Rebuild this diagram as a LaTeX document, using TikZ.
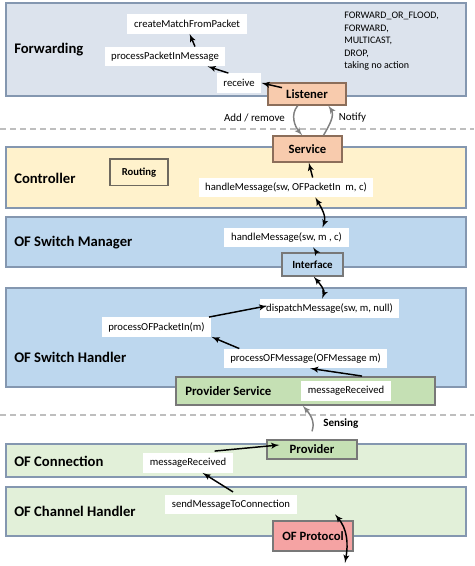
\documentclass[tikz,border=0pt]{standalone}
\usepackage{fontspec}
\setmainfont{Carlito}
\usetikzlibrary{positioning, arrows}

\definecolor{fwdfill}{RGB}{220,227,237}
\definecolor{ctrlfill}{RGB}{255,242,204}
\definecolor{swfill}{RGB}{189,215,238}
\definecolor{connfill}{RGB}{226,240,217}
\definecolor{provfill}{RGB}{197,224,180}
\definecolor{orangefill}{RGB}{248,203,173}
\definecolor{protofill}{RGB}{245,163,163}
\definecolor{layerline}{RGB}{132,151,176}
\definecolor{compline}{RGB}{120,120,120}
\definecolor{orangeline}{RGB}{140,110,90}
\definecolor{routeline}{RGB}{110,105,95}
\definecolor{sepgray}{RGB}{190,190,190}
\definecolor{loopgray}{RGB}{128,128,128}

\begin{document}
\begin{tikzpicture}[>=latex', x=0.75pt, y=-0.75pt]
    \tikzset{layer/.style = {draw=layerline, line width=1pt, minimum width=345pt},
             title/.style = {anchor=west, inner sep=0, font=\fontsize{11}{13}\selectfont\bfseries},
             call/.style = {fill=white, inner xsep=5pt, minimum height=14.5pt, font=\fontsize{8}{9.6}\selectfont},
             comp/.style = {draw=compline, line width=1pt, font=\fontsize{9.5}{11}\selectfont\bfseries},
             flow/.style = {->, line width=1.1pt},
             twoway/.style = {<->, line width=1.1pt},
             loop/.style = {->, line width=1.1pt, draw=loopgray},
             sep/.style = {draw=sepgray, line width=1pt, dash pattern=on 4.5pt off 3pt}
            }
    \useasboundingbox (0,0) rectangle (474,566);

    % layers
    \node (fwd) [layer, fill=fwdfill, minimum height=69.75pt] at (236,49.5) {};
    \node (ctrl) [layer, fill=ctrlfill, minimum height=45.75pt] at (236,177.5) {};
    \node (swmgr) [layer, fill=swfill, minimum height=37.5pt] at (236,242) {};
    \node (swhdl) [layer, fill=swfill, minimum height=74.25pt] at (236,337.5) {};
    \node (ofconn) [layer, fill=connfill, minimum height=24.75pt] at (236,460.5) {};
    \node (ofchan) [layer, fill=connfill, minimum height=36.75pt] at (236,511.5) {};

    \node (fwdtitle) [title] at (14,50) {Forwarding};
    \node (ctrltitle) [title] at (14,178) {Controller};
    \node (swmgrtitle) [title] at (14,243) {OF Switch Manager};
    \node (swhdltitle) [title] at (14,357) {OF Switch Handler};
    \node (ofconntitle) [title] at (14,461) {OF Connection};
    \node (ofchantitle) [title] at (14,511) {OF Channel Handler};

    % separators
    \coordinate (sepAw) at (0,129);
    \coordinate (sepAe) at (474,129);
    \coordinate (sepBw) at (0,415);
    \coordinate (sepBe) at (474,415);
    \draw[sep] (sepAw) -- (sepAe);
    \draw[sep] (sepBw) -- (sepBe);

    % forwarding
    \node (cmfp) [call] at (187,24) {createMatchFromPacket};
    \node (ppim) [call] at (165,56.5) {processPacketInMessage};
    \node (recv) [call] at (239,83) {receive};
    \node (actions) [anchor=north west, align=left, inner sep=0, font=\fontsize{7.5}{9.4}\selectfont] at (344,12)
        {FORWARD\_OR\_FLOOD,\\FORWARD,\\MULTICAST,\\DROP,\\taking no action};
    \node (listener) [comp, fill=orangefill, draw=orangeline, minimum width=58.5pt, minimum height=16.5pt] at (307,94) {Listener};

    % controller
    \node (service) [comp, fill=orangefill, draw=orangeline, minimum width=51.75pt, minimum height=19.5pt] at (307.5,149) {Service};
    \node (routing) [comp, fill=ctrlfill, draw=routeline, font=\fontsize{8}{10}\selectfont\bfseries,
                     minimum width=43.5pt, minimum height=20pt] at (139,172.5) {Routing};
    \node (hmc) [call] at (286,187.5) {handleMessage(sw, OFPacketIn~ m, c)};
    \node (addrm) [font=\fontsize{8.2}{10}\selectfont] at (254.5,118) {Add / remove};
    \node (notify) [font=\fontsize{8.2}{10}\selectfont] at (352.5,118) {Notify};

    % switch manager
    \node (hms) [call] at (286.5,237.5) {handleMessage(sw, m , c)};
    \node (iface) [comp, fill=swfill, font=\fontsize{8.2}{10}\selectfont\bfseries,
                   minimum width=45.75pt, minimum height=17.25pt] at (312.5,264.5) {Interface};

    % switch handler
    \node (dispatch) [call] at (329.5,308.5) {dispatchMessage(sw, m, null)};
    \node (pofpi) [call] at (156.5,327) {processOFPacketIn(m)};
    \node (pofm) [call] at (305.5,358.5) {processOFMessage(OFMessage m)};
    \node (provsvc) [comp, fill=provfill, minimum width=194.25pt, minimum height=21pt] at (305.5,391) {};
    \node (provsvctitle) [anchor=west, inner sep=0, font=\fontsize{9.6}{11}\selectfont\bfseries] at (185,391) {Provider Service};
    \node (svcmsgrcv) [call] at (346,391) {messageReceived};

    % connection and channel
    \node (provider) [comp, fill=provfill, minimum width=67.5pt, minimum height=14.25pt] at (312,449.5) {Provider};
    \node (sensing) [anchor=west, inner sep=0, font=\fontsize{8.3}{10}\selectfont\bfseries] at (323,424) {Sensing};
    \node (connmsgrcv) [call] at (188,463) {messageReceived};
    \node (smtc) [call] at (231,504.5) {sendMessageToConnection};
    \node (ofproto) [comp, fill=protofill, minimum width=60pt, minimum height=22.5pt] at (313,536) {OF Protocol};
    \coordinate (wire) at (345,563);

    % connectors
    \draw[flow] ([xshift=22.5pt]ppim.north) -- ([xshift=2pt]cmfp.south);
    \draw[flow] ([xshift=-8pt]recv.north) -- ([xshift=32pt]ppim.south);
    \draw[flow] ([xshift=11pt,yshift=-4pt]listener.north west) -- (recv.east);
    \draw[loop] ([xshift=-7pt]listener.south) to[out=-130,in=130] ([xshift=-4pt]service.north);
    \draw[loop] ([xshift=12pt]service.north) to[out=60,in=-55] ([xshift=16pt]listener.south);
    \draw[flow] ([xshift=20pt]hmc.north) -- ([xshift=1pt]service.south);
    \draw[twoway] ([xshift=22pt]hmc.south) to[out=-60,in=70] ([xshift=27pt]hms.north);
    \draw[flow] ([xshift=3pt]iface.north) -- ([xshift=20pt]hms.south);
    \draw[twoway] ([xshift=1pt]iface.south) to[out=-50,in=70] ([xshift=-5.5pt]dispatch.north);
    \draw[flow] ([xshift=-2pt]pofpi.north east) -- ([xshift=6pt,yshift=2pt]dispatch.west);
    \draw[flow] ([xshift=12pt]pofm.north west) -- (pofpi.south east);
    \draw[flow] ([xshift=12pt,yshift=3.75pt]svcmsgrcv.north) -- ([xshift=3.5pt]pofm.south);
    \draw[loop] ([yshift=6pt]provider.north) to[out=70,in=-50] ([xshift=-2pt]provsvc.south);
    \draw[flow] ([xshift=20pt,yshift=1.5pt]connmsgrcv.north) -- ([xshift=9.75pt,yshift=3.4pt]provider.west);
    \draw[flow] ([xshift=1.5pt,yshift=2pt]smtc.north) -- ([xshift=11pt]connmsgrcv.south);
    \draw[twoway] ([xshift=28.5pt]smtc.south east) to[out=-50,in=80] (wire);
\end{tikzpicture}
\end{document}
